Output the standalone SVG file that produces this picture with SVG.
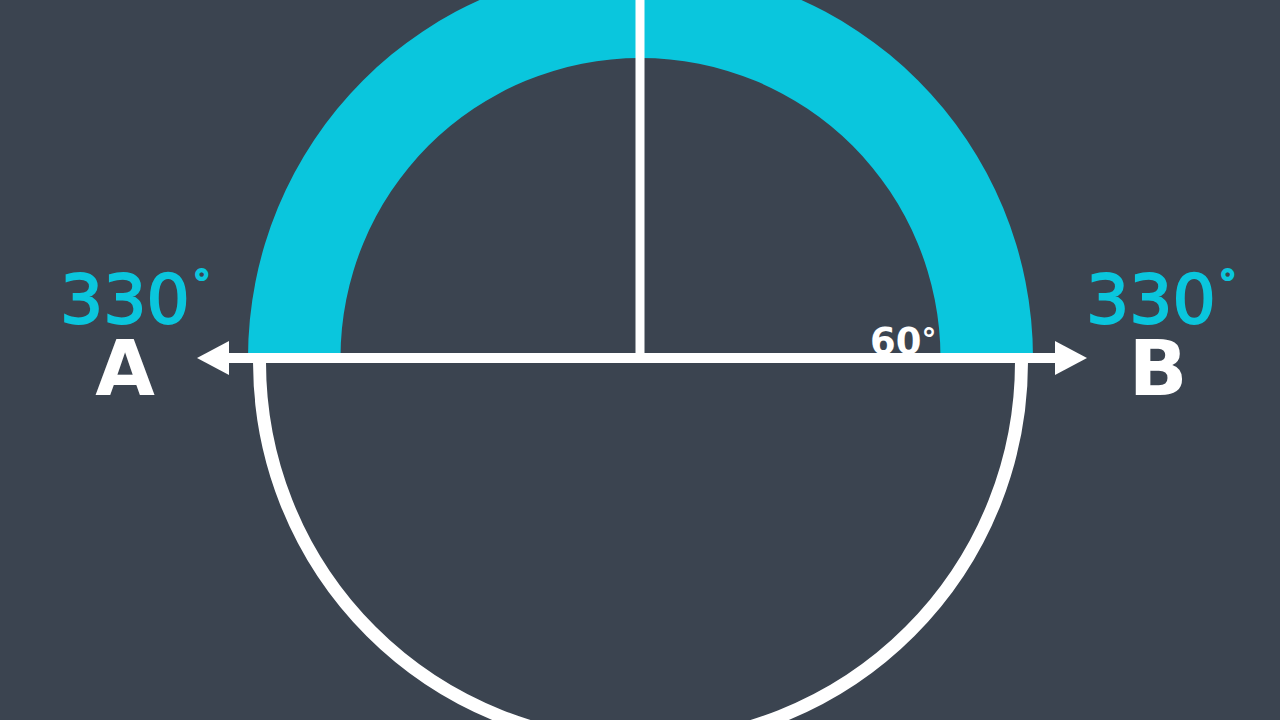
<svg xmlns="http://www.w3.org/2000/svg" width="1280" height="720" viewBox="0 0 1280 720">
  <style>
    .bg { fill: #3b4450; }
    .cyan { fill: #0ac6dd; }
    .white-stroke { fill: none; stroke: #ffffff; }
    .deg { font-family: "DejaVu Sans", "Liberation Sans", sans-serif; fill: #0ac6dd; stroke: #0ac6dd; stroke-width: 2; font-size: 68px; }
    .letter { font-family: "DejaVu Sans", "Liberation Sans", sans-serif; fill: #ffffff; font-weight: bold; font-size: 77px; text-anchor: middle; }
    .small { font-family: "DejaVu Sans", "Liberation Sans", sans-serif; fill: #ffffff; font-weight: bold; font-size: 37px; }
  </style>
  <defs>
    <marker id="arrow" viewBox="0 0 32 34" refX="0" refY="17" markerWidth="32" markerHeight="34" markerUnits="userSpaceOnUse" orient="auto-start-reverse">
      <path d="M0,0 L32,17 L0,34 Z" fill="#ffffff"/>
    </marker>
  </defs>
  <rect class="bg" x="0" y="0" width="1280" height="720"/>

  <g id="upper-band">
    <path class="cyan" d="M248,358 A392.5,392.5 0 0 1 1033,358 L940.5,358 A300,300 0 0 0 340.5,358 Z"/>
  </g>

  <g id="lower-circle">
    <path class="white-stroke" stroke-width="13" d="M259.5,362 A381,381 0 0 0 1021.5,362"/>
  </g>

  <g id="connectors">
    <line class="white-stroke" stroke-width="9" x1="640" y1="0" x2="640" y2="358"/>
    <line class="white-stroke" stroke-width="10" x1="229" y1="358" x2="1055" y2="358" marker-start="url(#arrow)" marker-end="url(#arrow)"/>
  </g>

  <g id="label-a">
    <text class="deg" x="60" y="323">330<tspan font-size="36" dx="3" dy="-28">°</tspan></text>
    <text class="letter" x="125" y="395">A</text>
  </g>

  <g id="label-b">
    <text class="deg" x="1086" y="323">330<tspan font-size="36" dx="3" dy="-28">°</tspan></text>
    <text class="letter" x="1158" y="395">B</text>
  </g>

  <g id="label-60">
    <text class="small" x="870" y="354">60<tspan font-size="30" dy="-4">°</tspan></text>
  </g>
</svg>
